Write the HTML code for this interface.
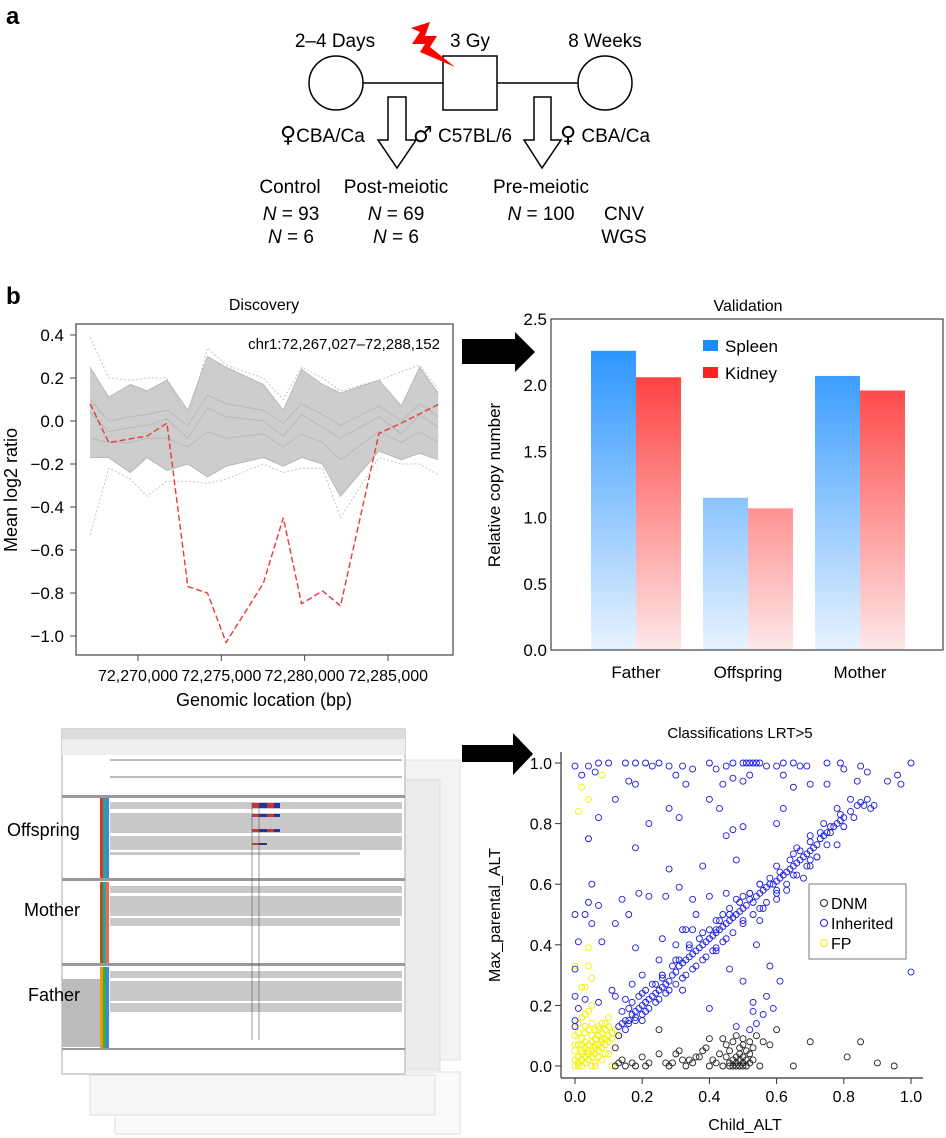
<!DOCTYPE html>
<html><head><meta charset="utf-8"><style>
body{margin:0;background:#fff;}
svg{display:block;font-family:"Liberation Sans",Arial,sans-serif;}
</style></head><body>
<svg id="fig" width="946" height="1138" viewBox="0 0 946 1138">
<defs>
<linearGradient id="gS" gradientUnits="userSpaceOnUse" x1="0" y1="319" x2="0" y2="650"><stop offset="0" stop-color="#1a8cff"/><stop offset="1" stop-color="#e8f3ff"/></linearGradient>
<linearGradient id="gK" gradientUnits="userSpaceOnUse" x1="0" y1="319" x2="0" y2="650"><stop offset="0" stop-color="#ff2020"/><stop offset="1" stop-color="#fde8e8"/></linearGradient>
</defs>
<!-- Panel a -->
<text x="6" y="24" font-size="24" font-weight="bold">a</text>
<g font-size="19">
<text x="335" y="47" text-anchor="middle">2–4 Days</text>
<text x="470" y="47" text-anchor="middle">3 Gy</text>
<text x="605" y="47" text-anchor="middle">8 Weeks</text>
<line x1="363" y1="83" x2="443" y2="83" stroke="#000" stroke-width="1.5"/>
<line x1="497" y1="83" x2="578" y2="83" stroke="#000" stroke-width="1.5"/>
<circle cx="336" cy="83" r="27" fill="#fff" stroke="#000" stroke-width="1.5"/>
<circle cx="605" cy="83" r="27" fill="#fff" stroke="#000" stroke-width="1.5"/>
<rect x="443" y="56" width="54" height="54" fill="#fff" stroke="#000" stroke-width="1.5"/>
<polygon points="411,28 430,22 425,36 437,36 430,47 455,67 420,52 425,44 412,44 420,32" fill="#f00"/>
<polygon points="388,97 406,97 406,140 416,140 397,168 378,140 388,140" fill="#fff" stroke="#000" stroke-width="1.5"/>
<polygon points="534,97 551,97 551,140 561,140 542,168 524,140 534,140" fill="#fff" stroke="#000" stroke-width="1.5"/>
<text x="280" y="142"><tspan font-family="DejaVu Sans" font-size="22">♀</tspan>CBA/Ca</text>
<text x="413" y="142"><tspan font-family="DejaVu Sans" font-size="22">♂</tspan> C57BL/6</text>
<text x="560" y="142"><tspan font-family="DejaVu Sans" font-size="22">♀</tspan> CBA/Ca</text>
<text x="290" y="193" text-anchor="middle">Control</text>
<text x="396" y="193" text-anchor="middle">Post-meiotic</text>
<text x="541" y="193" text-anchor="middle">Pre-meiotic</text>
<text x="291" y="220" text-anchor="middle"><tspan font-style="italic">N</tspan> = 93</text>
<text x="396" y="220" text-anchor="middle"><tspan font-style="italic">N</tspan> = 69</text>
<text x="541" y="220" text-anchor="middle"><tspan font-style="italic">N</tspan> = 100</text>
<text x="624" y="220" text-anchor="middle">CNV</text>
<text x="291" y="243" text-anchor="middle"><tspan font-style="italic">N</tspan> = 6</text>
<text x="396" y="243" text-anchor="middle"><tspan font-style="italic">N</tspan> = 6</text>
<text x="624" y="243" text-anchor="middle">WGS</text>
</g>
<text x="6" y="304" font-size="24" font-weight="bold">b</text>

<!-- Discovery -->
<g id="disc">
<text x="264" y="310" font-size="16" text-anchor="middle">Discovery</text>
<text x="440" y="349" font-size="15" text-anchor="end">chr1:72,267,027–72,288,152</text>
<text transform="translate(17,490) rotate(-90)" font-size="18" text-anchor="middle">Mean log2 ratio</text>
<text x="264" y="706" font-size="18" text-anchor="middle">Genomic location (bp)</text>
</g>

<!-- Validation -->
<g id="val">
<text x="748" y="311" font-size="16" text-anchor="middle">Validation</text>
<text transform="translate(500,485) rotate(-90)" font-size="17" text-anchor="middle">Relative copy number</text>
</g>

<!-- arrows -->
<polygon points="462,339 515,339 515,332 535,352 515,372 515,364 462,364" fill="#000"/>
<polygon points="462,745 513,745 513,733 533,754 513,775 513,762 462,762" fill="#000"/>

<!-- IGV screenshot -->
<g>
<rect x="115" y="1072" width="345" height="62" fill="#fafafa" stroke="#ddd"/>
<rect x="90" y="1075" width="345" height="40" fill="#f6f6f6" stroke="#ddd"/>
<rect x="405" y="760" width="55" height="300" fill="#f3f3f3" stroke="#e0e0e0"/>
<rect x="405" y="780" width="35" height="290" fill="#ececec" stroke="#ddd"/>
<rect x="62" y="729" width="343" height="345" fill="#fff" stroke="#aaa"/>
<rect x="62" y="729" width="343" height="10" fill="#ddd"/>
<rect x="62" y="739" width="343" height="16" fill="#eee"/>
<rect x="62" y="795" width="343" height="3" fill="#999"/>
<line x1="110" y1="760" x2="402" y2="760" stroke="#777"/>
<line x1="110" y1="777" x2="402" y2="777" stroke="#777"/>
<rect x="62" y="979" width="38" height="68" fill="#bbb"/>
<rect x="100" y="798" width="3" height="80" fill="#d33"/><rect x="103" y="798" width="3" height="80" fill="#2a9"/><rect x="106" y="798" width="3" height="80" fill="#48c"/>
<rect x="100" y="882" width="3" height="83" fill="#a52"/><rect x="103" y="882" width="3" height="83" fill="#2a9"/><rect x="106" y="882" width="3" height="83" fill="#e65"/>
<rect x="100" y="967" width="3" height="82" fill="#e90"/><rect x="103" y="967" width="3" height="82" fill="#3a5"/><rect x="106" y="967" width="3" height="82" fill="#48c"/>
<rect x="62" y="878" width="343" height="3" fill="#999"/>
<rect x="62" y="963" width="343" height="3" fill="#999"/>
<rect x="62" y="1048" width="343" height="2" fill="#999"/>
<g fill="#c9c9c9">
<rect x="110" y="802" width="292" height="7"/>
<rect x="110" y="813" width="292" height="20"/><rect x="110" y="836" width="292" height="14"/><rect x="110" y="852" width="250" height="3"/>
<rect x="110" y="886" width="292" height="7"/>
<rect x="110" y="896" width="292" height="20"/><rect x="110" y="918" width="290" height="8"/>
<rect x="110" y="971" width="292" height="7"/>
<rect x="110" y="981" width="292" height="20"/><rect x="110" y="1003" width="292" height="9"/>
</g>
<g fill="#c33"><rect x="252" y="803" width="7" height="5"/><rect x="267" y="803" width="7" height="5"/><rect x="252" y="814" width="7" height="3"/><rect x="267" y="814" width="7" height="3"/><rect x="252" y="829" width="7" height="3"/><rect x="267" y="829" width="7" height="3"/><rect x="252" y="843" width="7" height="2"/></g>
<g fill="#239"><rect x="259" y="803" width="8" height="5"/><rect x="274" y="803" width="6" height="5"/><rect x="259" y="814" width="8" height="3"/><rect x="274" y="814" width="6" height="3"/><rect x="259" y="829" width="8" height="3"/><rect x="274" y="829" width="6" height="3"/><rect x="259" y="843" width="8" height="2"/></g>
<line x1="252" y1="803" x2="252" y2="1040" stroke="#555" stroke-width="0.6"/>
<line x1="259" y1="803" x2="259" y2="1040" stroke="#555" stroke-width="0.6"/>
<text x="7" y="836" font-size="18">Offspring</text>
<text x="24" y="916" font-size="18">Mother</text>
<text x="28" y="1001" font-size="18">Father</text>
</g>

<!-- Scatter -->
<g id="sc">
<text x="740" y="738" font-size="15" text-anchor="middle">Classifications LRT&gt;5</text>
<text x="745" y="1130" font-size="16" text-anchor="middle">Child_ALT</text>
<text transform="translate(500,915) rotate(-90)" font-size="16" text-anchor="middle">Max_parental_ALT</text>
</g>
</svg>
<script>
const NS="http://www.w3.org/2000/svg";
function mk(p,t,a){const e=document.createElementNS(NS,t);for(const k in a)e.setAttribute(k,a[k]);p.appendChild(e);return e;}

// ---- Discovery data ----
const redBp=[72267128,72268245,72270540,72271735,72272990,72274170,72275285,72277520,72278715,72279815,72281070,72282150,72284460,72285800,72288010];
const redVal=[0.08,-0.10,-0.07,-0.01,-0.77,-0.80,-1.03,-0.755,-0.45,-0.85,-0.79,-0.86,-0.057,-0.01,0.077];
const grayBp=[72267128,72268245,72269541,72270540,72271735,72272990,72274170,72275285,72277520,72278715,72279815,72281070,72282150,72284460,72285800,72286895,72288010];
const grayUpper=[0.25,0.11,0.17,0.14,0.19,0.05,0.30,0.25,0.17,0.05,0.24,0.17,0.13,0.19,0.07,0.25,0.13];
const grayMid=[0.04,-0.05,-0.03,-0.02,0.01,-0.08,0.06,0.02,0.0,-0.07,0.03,-0.03,-0.08,0.02,-0.06,0.03,-0.03];
const grayMid2=[0.1,0.0,0.02,0.03,0.05,-0.02,0.12,0.08,0.05,-0.01,0.08,0.03,-0.02,0.07,0.0,0.08,0.02];
const grayMid3=[-0.08,-0.1,-0.1,-0.08,-0.08,-0.12,-0.05,-0.08,-0.06,-0.12,-0.06,-0.1,-0.18,-0.05,-0.1,-0.05,-0.1];
const grayLower=[-0.17,-0.17,-0.24,-0.17,-0.23,-0.20,-0.26,-0.21,-0.17,-0.21,-0.17,-0.20,-0.35,-0.14,-0.18,-0.15,-0.18];
const grayHi2=[0.39,0.2,0.19,0.2,0.2,0.0,0.34,0.26,0.2,0.1,0.25,0.2,0.14,0.19,0.23,0.26,0.15];
const grayLo2=[-0.53,-0.22,-0.27,-0.35,-0.28,-0.28,-0.29,-0.27,-0.2,-0.24,-0.22,-0.22,-0.45,-0.17,-0.2,-0.2,-0.25];
const discYTicks=[0.4,0.2,0.0,-0.2,-0.4,-0.6,-0.8,-1.0];
const discYLabels=["0.4","0.2","0.0","\u22120.2","\u22120.4","\u22120.6","\u22120.8","\u22121.0"];
const discXTicks=[72270000,72275000,72280000,72285000];
const discXLabels=["72,270,000","72,275,000","72,280,000","72,285,000"];
const dx=b=>138+(b-72270000)/15000*250;
const dy=v=>335+(0.4-v)/1.4*301;
const disc=document.getElementById('disc');
{
 let pts=grayBp.map((b,i)=>dx(b)+','+dy(grayUpper[i]));
 for(let i=grayBp.length-1;i>=0;i--)pts.push(dx(grayBp[i])+','+dy(grayLower[i]));
 const band=mk(disc,'polygon',{points:pts.join(' '),fill:'#cdcdcd'});
 
 
 [grayHi2,grayLo2].forEach(arr=>{
  const l=mk(disc,'polyline',{points:grayBp.map((b,i)=>dx(b)+','+dy(arr[i])).join(' '),fill:'none',stroke:'#c4c4c4','stroke-width':1,'stroke-dasharray':'2,2'});
  
  
 });
 [grayUpper,grayMid2,grayMid,grayMid3,grayLower].forEach(arr=>{
  const l=mk(disc,'polyline',{points:grayBp.map((b,i)=>dx(b)+','+dy(arr[i])).join(' '),fill:'none',stroke:'#b8b8b8','stroke-width':1});
  
  
 });
 const r=mk(disc,'polyline',{points:redBp.map((b,i)=>dx(b)+','+dy(redVal[i])).join(' '),fill:'none',stroke:'#e8383d','stroke-width':1.4,'stroke-dasharray':'6,3'});
 
 
 const fr=mk(disc,'rect',{x:76,y:324,width:377,height:331,fill:'none',stroke:'#444','stroke-width':1.2});
 
 
 discYTicks.forEach((v,i)=>{
  mk(disc,'line',{x1:70,x2:76,y1:dy(v),y2:dy(v),stroke:'#444'});
  const t=mk(disc,'text',{x:64,y:dy(v)+6,'font-size':17,'text-anchor':'end'});t.textContent=discYLabels[i];
  
  
 });
 discXTicks.forEach((b,i)=>{
  mk(disc,'line',{x1:dx(b),x2:dx(b),y1:655,y2:661,stroke:'#444'});
  const t=mk(disc,'text',{x:dx(b),y:681,'font-size':16,'text-anchor':'middle',textLength:80,lengthAdjust:'spacingAndGlyphs'});t.textContent=discXLabels[i];
  
  
 });
}

// ---- Validation data ----
const groups=["Father","Offspring","Mother"];
const spleen=[2.26,1.15,2.07];
const kidney=[2.06,1.07,1.96];
const valTicks=[0,0.5,1.0,1.5,2.0,2.5];
const valLabels=["0.0","0.5","1.0","1.5","2.0","2.5"];
const by=v=>650-v*132.4;
const val=document.getElementById('val');
{
 groups.forEach((g,i)=>{
  const cx=636+i*112;
  const s=mk(val,'rect',{x:cx-45,y:by(spleen[i]),width:45,height:650-by(spleen[i]),fill:'url(#gS)'});
  
  
  const k=mk(val,'rect',{x:cx,y:by(kidney[i]),width:45,height:650-by(kidney[i]),fill:'url(#gK)'});
  
  
  const t=mk(val,'text',{x:cx,y:678,'font-size':17,'text-anchor':'middle'});t.textContent=g;
  
  
 });
 const fr=mk(val,'rect',{x:551,y:319,width:392,height:331,fill:'none',stroke:'#444','stroke-width':1.2});
 
 
 valTicks.forEach((v,i)=>{
  const t=mk(val,'text',{x:547,y:by(v)+6,'font-size':17,'text-anchor':'end'});t.textContent=valLabels[i];
  
  
 });
 const l1=mk(val,'rect',{x:703,y:340,width:15,height:11,fill:'#1a8cff'});
 
 
 const l2=mk(val,'rect',{x:703,y:367,width:15,height:11,fill:'#ff2020'});
 
 
 const t1=mk(val,'text',{x:725,y:352,'font-size':17});t1.textContent='Spleen';
 
 
 const t2=mk(val,'text',{x:725,y:379,'font-size':17});t2.textContent='Kidney';
 
 
}

// ---- Scatter data ----
const inheritedX=[0.13,0.14,0.15,0.16,0.17,0.18,0.19,0.2,0.21,0.22,0.23,0.24,0.25,0.26,0.27,0.28,0.29,0.3,0.31,0.32,0.33,0.34,0.35,0.36,0.37,0.38,0.39,0.4,0.41,0.42,0.43,0.44,0.45,0.46,0.47,0.48,0.49,0.5,0.51,0.52,0.53,0.54,0.55,0.56,0.57,0.58,0.59,0.6,0.61,0.62,0.63,0.64,0.65,0.66,0.67,0.68,0.69,0.7,0.71,0.72,0.73,0.74,0.75,0.76,0.77,0.78,0.79,0.8,0.82,0.84,0.85,0.86,0.88,
0.15,0.18,0.2,0.22,0.24,0.27,0.3,0.33,0.36,0.39,0.42,0.45,0.5,0.55,0.6,0.65,0.7,0.75,0.14,0.17,0.2,0.23,0.26,0.3,0.34,0.38,0.42,0.46,0.5,0.55,0.6,0.65,0.7,0.74,0.78,0.82,
0.16,0.19,0.21,0.24,0.26,0.29,0.31,0.34,0.37,0.4,0.43,0.46,0.49,0.52,0.55,0.58,0.61,0.64,0.67,0.7,0.73,0.76,0.79,0.18,0.21,0.25,0.28,0.32,0.35,0.38,0.41,0.44,0.47,0.5,0.53,0.57,0.6,0.63,0.66,0.69,0.72,
0,0.02,0.04,0.06,0.07,0.1,0.15,0.18,0.21,0.23,0.25,0.28,0.3,0.32,0.35,0.4,0.42,0.45,0.47,0.5,0.51,0.52,0.53,0.54,0.55,0.57,0.6,0.62,0.65,0.67,0.69,0.75,0.79,0.8,0.85,0.87,1.0,
0.16,0.18,0.33,0.44,0.47,0.5,0.52,0.62,0.65,0.7,0.75,0.84,0.93,0.96,0.97,
0.12,0.4,0.43,0.28,0.31,0.22,0.07,0.04,0.18,0.47,0.5,0.6,0.62,0.05,0.07,0.04,0.0,0.03,0.05,0.16,0.12,0.14,0.19,0.22,0.27,0.28,0.31,0.35,0.4,0.45,0.52,0.55,0.01,0.08,0.18,0.26,0.32,0.3,0.42,0.46,0.5,0.54,0.58,0.61,0.53,0.53,0.57,0.56,0.54,0.59,0.4,0.48,0.52,0.0,0.0,0.0,0.01,0.0,0.03,0.07,0.11,0.17,0.15,0.12,0.2,0.16,0.26,0.32,1.0,0.45,0.48,0.38,0.35,0.25,0.2,0.36,0.33,0.44,0.42,0.48,0.56,0.6,0.63,0.68,0.66,0.7,0.72,0.78,0.8,0.83,0.87,0.89];
const inheritedY=[0.13,0.14,0.15,0.15,0.17,0.18,0.19,0.2,0.21,0.22,0.23,0.24,0.25,0.26,0.27,0.28,0.3,0.31,0.33,0.34,0.35,0.36,0.37,0.38,0.39,0.4,0.41,0.42,0.43,0.44,0.45,0.46,0.47,0.48,0.49,0.5,0.51,0.52,0.53,0.55,0.54,0.56,0.57,0.58,0.59,0.6,0.6,0.61,0.62,0.63,0.64,0.65,0.66,0.67,0.68,0.69,0.7,0.71,0.72,0.73,0.75,0.76,0.77,0.77,0.79,0.8,0.81,0.82,0.84,0.86,0.87,0.86,0.85,
0.12,0.15,0.17,0.19,0.21,0.24,0.27,0.3,0.33,0.36,0.39,0.42,0.48,0.52,0.58,0.63,0.68,0.73,0.18,0.21,0.24,0.27,0.3,0.35,0.4,0.44,0.48,0.52,0.56,0.6,0.66,0.7,0.76,0.8,0.85,0.88,
0.19,0.23,0.25,0.27,0.29,0.33,0.35,0.39,0.42,0.45,0.48,0.5,0.54,0.57,0.6,0.62,0.64,0.68,0.71,0.74,0.77,0.79,0.83,0.16,0.18,0.22,0.25,0.29,0.32,0.35,0.38,0.41,0.44,0.47,0.5,0.54,0.57,0.6,0.63,0.66,0.69,
0.99,0.96,0.99,0.97,1,1,1,1,1,0.99,1,0.99,0.96,0.99,0.98,1,0.98,0.99,1,1,1,1,1,1,1,0.99,0.99,1,1,0.99,0.99,1,1,0.98,0.99,0.97,1,
0.94,0.93,0.93,0.93,0.95,0.94,0.96,0.96,0.92,0.93,0.93,0.94,0.94,0.96,0.93,
0.88,0.88,0.85,0.85,0.82,0.8,0.82,0.75,0.72,0.78,0.79,0.8,0.85,0.6,0.53,0.54,0.5,0.5,0.47,0.5,0.47,0.55,0.57,0.56,0.56,0.65,0.59,0.55,0.56,0.57,0.57,0.48,0.41,0.41,0.39,0.42,0.45,0.4,0.38,0.32,0.28,0.4,0.33,0.28,0.21,0.18,0.23,0.17,0.14,0.19,0.19,0.13,0.12,0.32,0.23,0.15,0.19,0.13,0.22,0.21,0.25,0.27,0.22,0.23,0.15,0.14,0.3,0.25,0.31,0.76,0.68,0.66,0.45,0.35,0.3,0.5,0.45,0.5,0.45,0.55,0.52,0.55,0.58,0.62,0.72,0.66,0.69,0.73,0.79,0.82,0.88,0.86];
const dnmX=[0.12,0.13,0.14,0.15,0.17,0.18,0.2,0.21,0.22,0.25,0.25,0.27,0.28,0.3,0.31,0.32,0.33,0.35,0.37,0.38,0.39,0.4,0.4,0.41,0.42,0.43,0.44,0.45,0.45,0.46,0.46,0.47,0.47,0.47,0.48,0.48,0.48,0.48,0.49,0.49,0.49,0.49,0.5,0.5,0.5,0.5,0.5,0.51,0.51,0.51,0.52,0.52,0.52,0.53,0.53,0.54,0.55,0.56,0.58,0.6,0.65,0.7,0.81,0.85,0.9,0.95,0.36,0.44,0.46,0.29,0.34,0.12,0.13];
const dnmY=[0.0,0.01,0.02,0.0,0.01,0.0,0.03,0.0,0.01,0.04,0.12,0.01,0.0,0.04,0.05,0.02,0.0,0.01,0.03,0.05,0.06,0.0,0.09,0.02,0.01,0.04,0.09,0.03,0.07,0.01,0.05,0.0,0.02,0.08,0.0,0.01,0.03,0.1,0.0,0.02,0.04,0.06,0.0,0.01,0.03,0.07,0.09,0.0,0.02,0.05,0.01,0.04,0.08,0.02,0.06,0.1,0.0,0.08,0.07,0.12,0.0,0.08,0.03,0.08,0.01,0.0,0.03,0.0,0.0,0.01,0.02,0.06,0.1];
const fpX=[0,0.01,0.02,0.03,0.04,0.05,0.06,0.07,0.08,0.09,0.1,0.11,0.12,0.01,0.02,0.03,0.04,0.05,0.06,0.07,0.08,0.09,0.02,0.03,0.04,0.05,0.06,0.07,0.08,0.09,0.1,0.11,0.0,0.0,0.01,0.02,0.03,0.0,0.01,0.02,0.04,0.05,0.03,0.02,0.05,0.04,0.0,0.04,0.01,0.02,0.04,0.08,0.1,0.09,0.07,0.06,0.05,0.08,0.1,0.11,0.06,
0.01,0.02,0.03,0.04,0.05,0.06,0.07,0.08,0.09,0.1,0.02,0.03,0.05,0.06,0.07,0.08,0.0,0.01,0.03,0.04];
const fpY=[0,0.01,0.02,0.03,0.04,0.05,0.06,0.07,0.08,0.09,0.1,0.11,0.12,0.03,0.05,0.06,0.07,0.08,0.09,0.1,0.11,0.12,0.0,0.01,0.02,0.03,0.04,0.05,0.06,0.07,0.08,0.09,0.02,0.05,0.07,0.09,0.11,0.1,0.14,0.16,0.18,0.2,0.26,0.26,0.29,0.33,0.33,0.39,0.84,0.92,0.88,0.96,0.16,0.14,0.13,0.12,0.0,0.02,0.04,0.0,0.01,
0.0,0.04,0.08,0.05,0.1,0.07,0.12,0.09,0.04,0.13,0.07,0.13,0.14,0.0,0.03,0.14,0.07,0.11,0.17,0.12];
const scTicks=[0,0.2,0.4,0.6,0.8,1.0];
const scLabels=["0.0","0.2","0.4","0.6","0.8","1.0"];
const sx=v=>575+v*336;
const sy=v=>1066-v*303;
const sc=document.getElementById('sc');
{
 function series(xs,ys,col,name){
  const g=mk(sc,'g',{fill:'none',stroke:col,'stroke-width':0.9});
  
  
  xs.forEach((x,i)=>{const c=mk(g,'circle',{cx:sx(x),cy:sy(ys[i]),r:3});
   
   });
 }
 series(fpX,fpY,'#f0f000','series-fp');
 series(dnmX,dnmY,'#222','series-dnm');
 series(inheritedX,inheritedY,'#1a1ae0','series-inherited');
 mk(sc,'line',{x1:561,x2:561,y1:752,y2:1078,stroke:'#333','stroke-width':1.2});
 mk(sc,'line',{x1:561,x2:923,y1:1078,y2:1078,stroke:'#333','stroke-width':1.2});
 scTicks.forEach((v,i)=>{
  mk(sc,'line',{x1:555,x2:561,y1:sy(v),y2:sy(v),stroke:'#333'});
  const t=mk(sc,'text',{x:552,y:sy(v)+6,'font-size':16,'text-anchor':'end'});t.textContent=scLabels[i];
  
  
  mk(sc,'line',{x1:sx(v),x2:sx(v),y1:1078,y2:1084,stroke:'#333'});
  const u=mk(sc,'text',{x:sx(v),y:1102,'font-size':16,'text-anchor':'middle'});u.textContent=scLabels[i];
  
  
 });
 const lg=mk(sc,'g',{});
 
 
 mk(lg,'rect',{x:809,y:884,width:97,height:75,fill:'#fff',stroke:'#777'});
 [['DNM','#222'],['Inherited','#1a1ae0'],['FP','#f0f000']].forEach((e,i)=>{
  mk(lg,'circle',{cx:824,cy:903+i*20,r:3.5,fill:'none',stroke:e[1]});
  const t=mk(lg,'text',{x:831,y:909+i*20,'font-size':16});t.textContent=e[0];
  
  
 });
}
</script>
</body></html>
